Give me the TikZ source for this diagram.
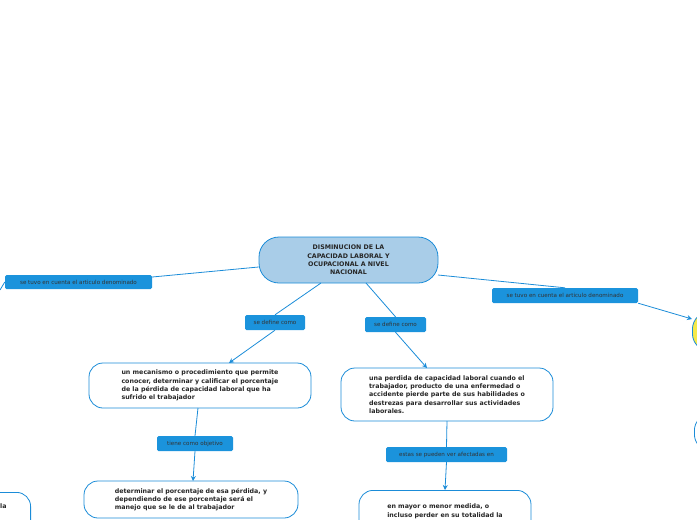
\documentclass[tikz,border=0pt]{standalone}
\usepackage{fontspec}
\setmainfont{DejaVu Sans}
\usetikzlibrary{arrows.meta}
\hyphenpenalty=10000
\exhyphenpenalty=10000
\definecolor{lblue}{HTML}{1B93DC}
\definecolor{mfill}{HTML}{A9CDE8}
\definecolor{edge}{HTML}{1B8CD8}
\definecolor{ylw}{HTML}{F5E94A}
\tikzset{
 box/.style={draw=edge,line width=0.8pt,rounded corners=14pt,fill=white,inner sep=0pt,font=\fontsize{6.3}{8.3}\selectfont\bfseries,text=black!85,align=left},
 lab/.style={fill=lblue,rounded corners=1.5pt,inner sep=0pt,font=\fontsize{5.6}{6}\selectfont,text=black!80},
 con/.style={draw=edge,line width=0.8pt},
 arr/.style={con,-{Stealth[length=5pt,width=5pt]}}
}
\begin{document}
\begin{tikzpicture}[x=1pt,y=-1pt]
\useasboundingbox (0,0) rectangle (697,520);
\begin{scope}
\clip (0,0) rectangle (697,520);
% main
\node[box,fill=mfill,minimum width=179pt,minimum height=46pt,rounded corners=20pt,align=center] (m) at (348.5,260) {DISMINUCION DE LA\\CAPACIDAD LABORAL Y\\OCUPACIONAL A NIVEL\\NACIONAL};
% labels
\node[lab,minimum width=147pt,minimum height=14pt] (l1) at (78.5,282) {se tuvo en cuenta el articulo denominado};
\node[lab,minimum width=146pt,minimum height=15pt] (l2) at (565,295.5) {se tuvo en cuenta el articulo denominado};
\node[lab,minimum width=60pt,minimum height=15pt] (l3) at (275,322.5) {se define como};
\node[lab,minimum width=61pt,minimum height=15pt] (l4) at (395.5,324.5) {se define como};
\node[lab,minimum width=76pt,minimum height=15pt] (l5) at (195,443.5) {tiene como objetivo};
\node[lab,minimum width=121pt,minimum height=15pt] (l6) at (446.5,454.5) {estas se pueden ver afectadas en};
% boxes
\node[box,minimum width=222pt,minimum height=45pt] (b1) at (200,385.5) {un mecanismo o procedimiento que permite\\conocer, determinar y calificar el porcentaje\\de la pérdida de capacidad laboral que ha\\sufrido el trabajador};
\node[box,minimum width=212pt,minimum height=53pt] (b2) at (447,394.5) {una perdida de capacidad laboral cuando el\\trabajador, producto de una enfermedad o\\accidente pierde parte de sus habilidades o\\destrezas para desarrollar sus actividades\\laborales.};
\node[box,minimum width=214pt,minimum height=37pt] (b3) at (191,499.5) {determinar el porcentaje de esa pérdida, y\\dependiendo de ese porcentaje será el\\manejo que se le de al trabajador};
\node[box,minimum width=172pt,minimum height=50pt,anchor=north] (b4) at (445,490) {en mayor o menor medida, o\\incluso perder en su totalidad la\\pérdida de la capacidad laboral.};
\node[box,minimum width=80pt,minimum height=50pt,anchor=north east] (b5) at (31,492) {};
\node[font=\fontsize{6.3}{8.3}\selectfont\bfseries,text=black!85,inner sep=0pt,anchor=west] (t5) at (0,506) {la};
\node[box,fill=ylw,minimum width=40pt,minimum height=40pt,anchor=north west,rounded corners=18pt] (b6) at (692,311) {};
\node[box,minimum width=40pt,minimum height=36pt,anchor=north west,rounded corners=16pt] (b7) at (694,414) {};
% connectors
\coordinate (le) at (0,290);
\draw[con] (m.west|-0,267) -- (l1.east|-0,277);
\draw[con] (l1.west) -- (le);
\draw[con] (438,275) -- (l2.north);
\draw[arr] (l2.south east) -- (b6.north west|-0,319);
\draw[con] (321,283) -- (l3.north);
\draw[arr] (l3.south) -- (229,363);
\draw[con] (366,283) -- (l4.north);
\draw[arr] (l4.south) -- (427,368);
\draw[con] (198,408) -- (l5.north);
\draw[arr] (l5.south) -- (193,481);
\draw[con] (447,421) -- (l6.north);
\draw[arr] (l6.south) -- (b4.north);
\end{scope}
\end{tikzpicture}
\end{document}
